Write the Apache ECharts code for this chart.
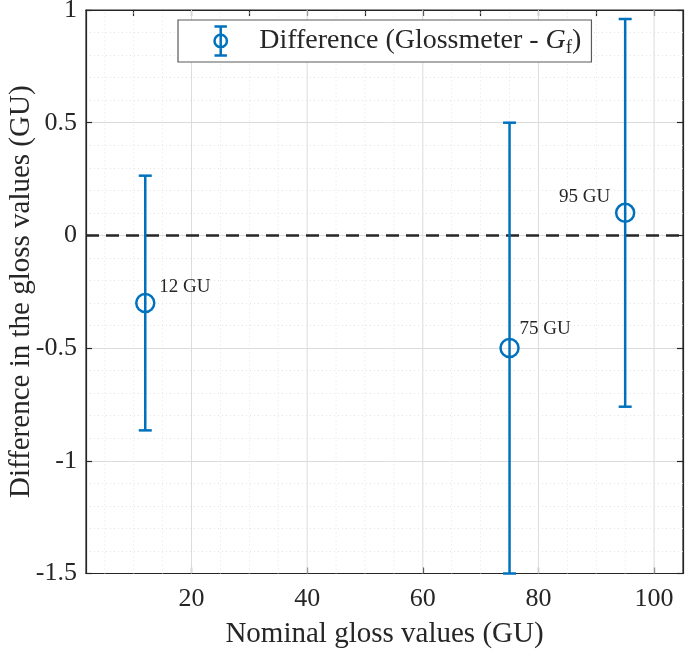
<!DOCTYPE html>
<html><head><meta charset="utf-8">
<script src="https://cdn.jsdelivr.net/npm/echarts@6/dist/echarts.min.js"></script>
<style>html,body{margin:0;padding:0;background:#fff}#c{width:685px;height:649px}</style>
</head><body><div id="c"></div>
<script>
// ---- data ----
const nominal = [12, 75, 95];
const diff = [-0.30, -0.50, 0.10];
const errHalf = [0.565, 1.00, 0.86];
const pointLabels = ['12 GU', '75 GU', '95 GU'];
const xMajorTicks = [20, 40, 60, 80, 100];
const xMinorGrid = [5, 10, 15, 25, 30, 35, 45, 50, 55, 65, 70, 75, 85, 90, 95];
const xTopTicks = [10, 20, 30, 40, 50, 60, 70, 80, 90, 100];
const zeroLine = [0];
const seriesName = 'Difference (Glossmeter - Gf)';

// ---- styles ----
const FONT = 'Liberation Serif';
const BLUE = '#0072BD';
const X_MIN = 1.75, X_MAX = 105, Y_MIN = -1.5, Y_MAX = 1;
const labelPlacement = [
  {dx: 14, dy: -16, align: 'left'},
  {dx: 10, dy: -19, align: 'left'},
  {dx: -15, dy: -16, align: 'right'}
];

const chart = echarts.init(document.getElementById('c'), null, {renderer: 'canvas'});

const gridSeries = {
  type: 'custom',
  name: 'grid',
  silent: true,
  z: 1,
  xAxisIndex: 0, yAxisIndex: 0,
  data: xMajorTicks.map(v => [v, 1]).concat(xMinorGrid.map(v => [v, 0])),
  renderItem: function (params, api) {
    const v = api.value(0), major = api.value(1) === 1;
    const a = api.coord([v, Y_MIN]), b = api.coord([v, Y_MAX]);
    return {
      type: 'line',
      shape: {x1: a[0], y1: a[1], x2: b[0], y2: b[1]},
      style: major
        ? {stroke: '#dcdcdc', lineWidth: 1}
        : {stroke: '#e3e3e3', lineWidth: 1, lineDash: [1, 3]}
    };
  }
};

const zeroSeries = {
  type: 'custom',
  name: 'zero',
  silent: true,
  z: 2,
  data: zeroLine.map(v => [v]),
  renderItem: function (params, api) {
    const a = api.coord([X_MIN, api.value(0)]), b = api.coord([X_MAX, api.value(0)]);
    return {
      type: 'line',
      shape: {x1: a[0], y1: a[1], x2: b[0], y2: b[1]},
      style: {stroke: '#262626', lineWidth: 2.5, lineDash: [13, 7]}
    };
  }
};

const errSeries = {
  type: 'custom',
  name: seriesName,
  z: 5,
  itemStyle: {color: BLUE},
  data: nominal.map((x, i) => [x, diff[i], errHalf[i], i]),
  renderItem: function (params, api) {
    const x = api.value(0), y = api.value(1), e = api.value(2), i = api.value(3);
    const p = api.coord([x, y]);
    const t = api.coord([x, y + e]);
    const b = api.coord([x, y - e]);
    const cap = 6.5;
    const st = {stroke: BLUE, lineWidth: 2.5, fill: null};
    const lp = labelPlacement[i];
    return {
      type: 'group',
      children: [
        {type: 'line', shape: {x1: t[0], y1: t[1], x2: b[0], y2: b[1]}, style: st},
        {type: 'line', shape: {x1: t[0] - cap, y1: t[1], x2: t[0] + cap, y2: t[1]}, style: st},
        {type: 'line', shape: {x1: b[0] - cap, y1: b[1], x2: b[0] + cap, y2: b[1]}, style: st},
        {type: 'circle', shape: {cx: p[0], cy: p[1], r: 9}, style: {stroke: BLUE, lineWidth: 2.5, fill: 'none'}},
        {type: 'text', x: p[0] + lp.dx, y: p[1] + lp.dy,
          style: {text: pointLabels[i], fill: '#262626', font: '19px "' + FONT + '"',
            align: lp.align, verticalAlign: 'middle'}}
      ]
    };
  }
};

const axisLineStyle = {show: true, onZero: false, lineStyle: {color: '#262626', width: 1.2}};

const option = {
  backgroundColor: '#fff',
  animation: false,
  grid: {left: 86, right: 2, top: 10, bottom: 75.5, show: true, borderColor: '#262626', borderWidth: 1.2,
    backgroundColor: 'transparent', containLabel: false, outerBoundsMode: 'none'},
  legend: {
    left: 178, top: 20,
    padding: [4, 10, 4, 34],
    backgroundColor: '#fff',
    borderColor: '#5a5a5a', borderWidth: 1.2,
    itemWidth: 13, itemHeight: 29,
    data: [{
      name: seriesName,
      icon: 'path://M0,0 L12,0 M6,0 L6,28 M0,28 L12,28 M12,14 A6,6 0 1 1 0,14 A6,6 0 1 1 12,14',
      itemStyle: {color: 'none', borderColor: BLUE, borderWidth: 2.5}
    }],
    selectedMode: false,
    formatter: function () {
      return '{sp|}{t|Difference (Glossmeter - }{i|G}{s|f}{t|)}';
    },
    textStyle: {
      rich: {
        sp: {width: 27},
        t: {fontFamily: FONT, fontSize: 28, color: '#262626'},
        i: {fontFamily: FONT, fontSize: 28, fontStyle: 'italic', color: '#262626'},
        s: {fontFamily: FONT, fontSize: 19, color: '#262626', padding: [14, 0, 0, 0]}
      }
    }
  },
  xAxis: [{
    type: 'value', min: X_MIN, max: X_MAX, position: 'bottom',
    name: 'Nominal gloss values (GU)', nameLocation: 'middle', nameGap: 46,
    nameTextStyle: {fontFamily: FONT, fontSize: 29, color: '#262626'},
    axisLine: axisLineStyle,
    axisTick: {show: true, inside: true, length: 6, customValues: xMajorTicks, lineStyle: {color: '#262626', width: 1.2}},
    axisLabel: {customValues: xMajorTicks, fontFamily: FONT, fontSize: 26, color: '#262626', margin: 13},
    splitLine: {show: false}
  }, {
    type: 'value', min: X_MIN, max: X_MAX, position: 'top',
    axisLine: axisLineStyle,
    axisTick: {show: true, inside: true, length: 6, customValues: xTopTicks, lineStyle: {color: '#262626', width: 1.2}},
    axisLabel: {show: false},
    splitLine: {show: false}
  }],
  yAxis: [{
    type: 'value', min: Y_MIN, max: Y_MAX, interval: 0.5,
    name: 'Difference in the gloss values (GU)', nameLocation: 'middle', nameGap: 50,
    nameMoveOverlap: false,
    nameTextStyle: {fontFamily: FONT, fontSize: 29, color: '#262626'},
    axisLine: axisLineStyle,
    axisTick: {show: true, inside: true, length: 6, lineStyle: {color: '#262626', width: 1.2}},
    axisLabel: {fontFamily: FONT, fontSize: 26, color: '#262626', margin: 9},
    splitLine: {show: true, lineStyle: {color: '#dcdcdc', width: 1}},
    minorTick: {show: false, splitNumber: 5},
    minorSplitLine: {show: true, lineStyle: {color: '#e3e3e3', width: 1, type: [1, 3]}}
  }, {
    type: 'value', min: Y_MIN, max: Y_MAX, interval: 0.5, position: 'right',
    axisLine: axisLineStyle,
    axisTick: {show: true, inside: true, length: 6, lineStyle: {color: '#262626', width: 1.2}},
    axisLabel: {show: false},
    splitLine: {show: false}
  }],
  series: [gridSeries, zeroSeries, errSeries]
};
chart.setOption(option);
</script>
</body></html>
